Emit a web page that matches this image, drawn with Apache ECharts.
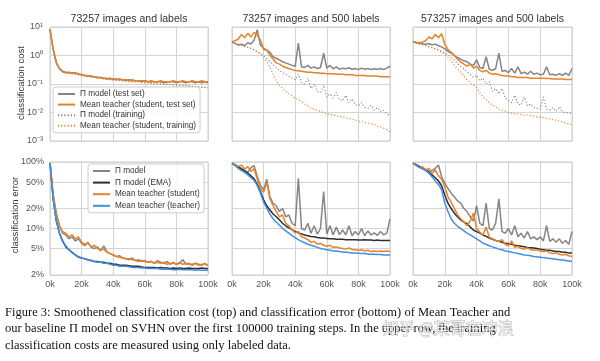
<!DOCTYPE html>
<html><head><meta charset="utf-8">
<script src="https://cdn.jsdelivr.net/npm/echarts@6/dist/echarts.min.js"></script>
<style>html,body{margin:0;padding:0;background:#fff}#c{width:600px;height:361px}</style>
</head><body><div id="c"></div>
<script>
// training steps (thousands)
const steps = [0,2,4,6,8,10,12,14,16,18,20,22,24,26,28,30,32,34,36,38,40,42,44,46,48,50,52,54,56,58,60,62,64,66,68,70,72,74,76,78,80,82,84,86,88,90,92,94,96,98,100];
const xTicks = [0,20,40,60,80,100];
const titles = ['73257 images and labels','73257 images and 500 labels','573257 images and 500 labels'];
const costTicks = [0.001,0.01,0.1,1,10];
const errTicks = [2,5,10,20,50,100];
const topNames = ['Π model (test set)','Mean teacher (student, test set)','Π model (training)','Mean teacher (student, training)'];
const botNames = ['Π model','Π model (EMA)','Mean teacher (student)','Mean teacher (teacher)'];
const caption = ['Figure 3: Smoothened classification cost (top) and classification error (bottom) of Mean Teacher and',
 'our baseline Π model on SVHN over the first 100000 training steps. In the upper row, the training',
 'classification costs are measured using only labeled data.'];

// ---- top row: classification cost ----
const piTest1 = [8.5,1.7,0.58,0.35,0.28,0.26,0.25,0.25,0.24,0.23, 0.21,0.2,0.19,0.19,0.18,0.17,0.17,0.16,0.15,0.16, 0.15,0.14,0.15,0.14,0.13,0.14,0.13,0.13,0.13,0.12, 0.13,0.12,0.12,0.12,0.12,0.12,0.11,0.12,0.12,0.12, 0.11,0.12,0.12,0.11,0.12,0.12,0.11,0.12,0.11,0.12, 0.11];
const mtTest1 = [8.0,1.6,0.55,0.34,0.27,0.25,0.26,0.24,0.25,0.22, 0.21,0.2,0.2,0.18,0.18,0.17,0.17,0.16,0.16,0.15, 0.15,0.15,0.14,0.14,0.14,0.13,0.14,0.13,0.13,0.13, 0.13,0.12,0.13,0.12,0.12,0.13,0.12,0.12,0.12,0.13, 0.12,0.12,0.13,0.12,0.12,0.13,0.12,0.12,0.13,0.12, 0.12];
const piTrain1 = [8.4,1.6,0.55,0.34,0.27,0.25,0.24,0.23,0.22,0.21, 0.2,0.19,0.18,0.18,0.17,0.16,0.16,0.15,0.15,0.14, 0.14,0.14,0.13,0.13,0.13,0.12,0.12,0.12,0.12,0.11, 0.11,0.11,0.105,0.1,0.1,0.1,0.098,0.096,0.094,0.092, 0.09,0.088,0.087,0.085,0.083,0.081,0.08,0.078,0.076,0.075, 0.073];
const mtTrain1 = [8.0,1.5,0.52,0.33,0.26,0.24,0.24,0.23,0.23,0.21, 0.2,0.19,0.19,0.18,0.17,0.17,0.16,0.16,0.15,0.15, 0.14,0.14,0.14,0.13,0.13,0.13,0.12,0.12,0.12,0.12, 0.11,0.11,0.11,0.11,0.105,0.1,0.1,0.1,0.098,0.096, 0.094,0.092,0.09,0.088,0.086,0.084,0.082,0.08,0.078,0.077, 0.075];

const piTest2 = [3.0,2.6,2.3,2.5,2.2,2.8,2.5,3.5,8.0,2.3, 1.8,1.5,1.3,0.9,0.8,0.7,0.6,0.55,0.5,0.45, 0.42,2.7,0.4,0.38,0.45,0.36,0.4,0.35,0.38,1.2, 0.36,0.45,0.34,0.4,0.33,0.36,0.34,0.37,0.33,0.35, 0.32,0.36,0.33,0.35,0.32,0.34,0.33,0.35,0.32,0.36, 0.42];
const mtTest2 = [3.0,3.3,3.8,5.5,4.2,6.0,4.5,6.5,5.0,3.5, 1.6,1.6,1.0,0.75,0.55,0.5,0.42,0.38,0.35,0.32, 0.3,0.29,0.28,0.27,0.26,0.26,0.25,0.25,0.24,0.24, 0.23,0.23,0.23,0.22,0.22,0.22,0.21,0.21,0.21,0.2, 0.2,0.2,0.2,0.19,0.19,0.19,0.19,0.18,0.18,0.18, 0.18];
const piTrain2 = [3.0,2.7,2.5,2.3,2.1,1.95,1.8,1.6,1.4,1.2, 1.0,0.8,0.62,0.48,0.38,0.3,0.25,0.22,0.19,0.16, 0.14,0.22,0.11,0.1,0.16,0.07,0.1,0.055,0.05,0.09, 0.035,0.045,0.032,0.05,0.028,0.026,0.04,0.022,0.03,0.019, 0.017,0.022,0.015,0.014,0.018,0.012,0.015,0.011,0.012,0.009, 0.008];
const mtTrain2 = [3.0,2.7,2.5,2.3,2.1,1.9,1.75,1.55,1.3,1.1, 0.85,0.6,0.4,0.22,0.13,0.09,0.07,0.055,0.045,0.038, 0.032,0.028,0.024,0.02,0.017,0.014,0.013,0.012,0.011,0.01, 0.009,0.0088,0.008,0.0078,0.0072,0.007,0.0064,0.0062,0.0057,0.0055, 0.005,0.0049,0.0045,0.0043,0.004,0.0038,0.0033,0.0031,0.0028,0.0025, 0.0021];

const piTest3 = [3.1,2.8,2.7,2.6,2.5,2.6,2.4,2.5,2.2,2.0, 1.7,1.4,1.2,1.0,0.85,0.75,0.65,0.6,0.5,0.45, 0.7,0.38,0.35,0.9,0.33,0.3,0.35,1.2,0.28,0.3, 0.25,0.35,0.24,0.4,0.23,0.26,0.22,0.28,0.22,0.24, 0.21,0.22,0.4,0.21,0.22,0.2,0.23,0.2,0.24,0.2, 0.35];
const mtTest3 = [3.1,2.9,2.8,3.0,3.3,4.5,3.8,5.5,4.2,5.8, 2.5,1.6,1.3,1.0,0.75,0.6,0.5,0.42,0.5,0.36, 0.42,0.3,0.27,0.3,0.24,0.22,0.23,0.21,0.2,0.19, 0.19,0.18,0.18,0.17,0.17,0.17,0.17,0.16,0.16,0.16, 0.16,0.16,0.155,0.155,0.15,0.15,0.15,0.15,0.145,0.145, 0.145];
const piTrain3 = [3.1,2.7,2.5,2.35,2.2,2.05,1.9,1.75,1.6,1.4, 1.25,1.05,0.85,0.68,0.52,0.42,0.34,0.27,0.22,0.17, 0.2,0.13,0.16,0.1,0.12,0.055,0.07,0.045,0.07,0.032, 0.026,0.022,0.04,0.02,0.018,0.035,0.017,0.02,0.015,0.014, 0.013,0.035,0.013,0.012,0.015,0.011,0.016,0.0105,0.01,0.0095, 0.0094];
const mtTrain3 = [3.1,2.7,2.5,2.35,2.2,2.0,1.85,1.7,1.5,1.3, 1.1,0.85,0.62,0.45,0.33,0.26,0.19,0.14,0.11,0.09, 0.075,0.05,0.035,0.028,0.022,0.018,0.016,0.013,0.012,0.011, 0.01,0.0095,0.009,0.0088,0.0085,0.008,0.0082,0.0078,0.0075,0.007, 0.0068,0.0066,0.0062,0.006,0.0057,0.0053,0.005,0.0046,0.0043,0.004, 0.0037];

// ---- bottom row: classification error (%) ----
const pi1 = [97,33,17,11,8.5,8.0,7.0,7.5,6.5,7.0, 6.0,5.5,6.2,5.2,5.0,5.3,4.6,5.5,4.5,4.2, 4.0,3.8,3.9,3.6,3.5,3.4,3.6,3.3,3.4,3.2, 3.3,3.1,3.2,3.0,3.3,3.1,3.0,3.2,2.9,3.1, 2.9,3.0,3.4,2.9,3.0,2.8,3.0,2.9,2.8,3.0, 2.8];
const piEma1 = [97,28,13,8.5,6.5,5.3,4.8,4.4,4.0,3.7, 3.6,3.5,3.4,3.3,3.2,3.2,3.1,3.1,3.0,3.0, 2.9,2.9,2.8,2.8,2.8,2.75,2.7,2.7,2.7,2.65, 2.6,2.6,2.6,2.6,2.55,2.6,2.55,2.55,2.5,2.55, 2.5,2.55,2.5,2.5,2.55,2.5,2.5,2.5,2.55,2.5, 2.5];
const mtStu1 = [97,32,16,11,9,8.5,7.5,8.0,7.0,7.5, 6.2,5.8,6.0,5.3,5.6,5.0,4.8,4.9,4.4,4.2, 4.0,3.8,3.7,3.6,3.5,3.5,3.4,3.3,3.2,3.3, 3.2,3.1,3.2,3.0,3.1,3.0,3.1,2.9,3.0,3.0, 2.9,3.1,2.9,3.0,2.9,2.9,3.0,2.8,2.9,2.9, 2.8];
const mtTea1 = [97,28,13,8.5,6.3,5.5,4.8,4.3,4.0,3.8, 3.6,3.5,3.4,3.3,3.2,3.1,3.1,3.0,3.0,2.9, 2.8,2.8,2.7,2.7,2.7,2.65,2.6,2.6,2.6,2.55, 2.55,2.5,2.5,2.5,2.5,2.45,2.45,2.45,2.45,2.4, 2.4,2.45,2.4,2.4,2.4,2.4,2.35,2.4,2.35,2.35, 2.35];

const pi2 = [96,90,86,80,75,70,82,88,60,45, 38,55,30,24,22,18,20,15,16,12, 11,57,10,9.5,12,8.5,11,8.2,10,36, 8.3,11,8.0,10.5,8.1,9.5,8.0,11,7.8,9.0, 8.0,10,7.8,9.2,8.0,8.6,7.9,9.0,8.0,8.5, 14];
const piEma2 = [96,90,84,78,73,68,62,56,46,36, 27,22,19,16.5,15,13.5,12,11,10.2,9.6, 9.0,8.6,8.3,8.0,7.8,7.6,7.5,7.3,7.2,7.2, 7.1,7.0,7.0,6.9,6.9,6.9,6.8,6.8,6.8,6.8, 6.7,6.7,6.8,6.7,6.7,6.6,6.7,6.6,6.6,6.6, 6.6];
const mtStu2 = [96,92,85,90,78,85,72,80,55,40, 35,50,28,22,18,15,16,12,11,9.5, 8.6,9.0,7.5,7.2,6.8,6.2,6.4,5.8,6.0,5.6, 5.4,5.6,5.2,5.3,5.1,5.0,4.9,5.1,4.8,4.8, 4.7,4.8,4.6,4.7,4.5,4.6,4.5,4.6,4.5,4.6, 4.5];
const mtTea2 = [96,88,80,74,70,64,58,53,44,34, 25,20,16.5,14,12.5,11.2,10,9.2,8.5,7.8, 7.3,6.8,6.4,6.1,5.8,5.6,5.4,5.2,5.0,4.9, 4.8,4.7,4.6,4.6,4.5,4.45,4.4,4.35,4.3,4.3, 4.25,4.2,4.2,4.15,4.1,4.1,4.05,4.05,4.0,4.0, 4.0];

const pi3 = [96,90,85,80,78,72,75,80,90,60, 48,40,34,30,26,24,20,18,15,13, 22,12,11,24,10,9.5,12,28,9.0,8.5, 10,8.0,11,7.5,8.5,7.2,9,7.0,7.5,6.8, 7.5,6.5,11,6.4,7.0,6.2,7.0,6.0,6.6,5.8, 9.0];
const piEma3 = [96,91,86,80,76,70,64,58,52,44, 32,24,20,17,15,13.5,12.5,11.8,10.5,9.5, 9.0,8.5,8.0,7.6,7.2,6.9,6.6,6.4,6.2,6.0, 5.9,5.8,5.6,5.5,5.4,5.3,5.2,5.15,5.1,5.0, 4.9,4.8,4.7,4.7,4.6,4.5,4.5,4.4,4.4,4.3, 4.3];
const mtStu3 = [96,88,82,85,75,80,68,76,62,55, 42,30,25,20,16,14,12.5,11,13,17, 10,8.8,8.0,10.5,7.4,7.0,6.6,6.4,6.8,5.8, 5.5,6.5,5.2,5.4,5.0,4.9,5.1,4.8,4.7,4.8, 4.6,4.5,4.6,4.3,4.2,4.3,4.1,4.0,4.1,3.9, 3.8];
const mtTea3 = [96,90,84,79,74,68,60,52,46,38, 24,18,14,12,10.8,10,9.2,8.5,8.0,7.5, 7.0,6.5,6.0,5.8,5.5,5.3,5.1,4.9,4.8,4.6, 4.5,4.4,4.3,4.2,4.1,4.0,3.95,3.9,3.8,3.75, 3.7,3.65,3.6,3.55,3.5,3.45,3.4,3.35,3.3,3.25, 3.2];

const GRAY = '#858585', BLACK = '#2e2e2e', ORANGE = '#e8822a', BLUE = '#3f8fe3';
const FONT = '"Liberation Sans", Arial, sans-serif';

const grids = [
  {left:50, top:27, width:158, height:114},
  {left:232, top:27, width:158, height:114},
  {left:413, top:27, width:159, height:114},
  {left:50, top:162, width:158, height:113},
  {left:232, top:162, width:158, height:113},
  {left:413, top:162, width:159, height:113}
].map(g => Object.assign({show:true, borderColor:'#cfcfcf', borderWidth:1, backgroundColor:'transparent'}, g));

const supMap = {'-3':'10⁻³','-2':'10⁻²','-1':'10⁻¹','0':'10⁰','1':'10¹'};
const xAxes = grids.map((g,i) => ({
  type:'value', gridIndex:i, min:0, max:100, interval:20,
  axisLine:{show:false}, axisTick:{show:false},
  splitLine:{show:true, lineStyle:{color:'#d4d4d4', width:1}},
  axisLabel:{show:i>=3, fontSize:9, color:'#555', fontFamily:FONT, margin:5, formatter:v => v + 'k'}
}));
const yAxes = grids.map((g,i) => {
  if (i < 3) return {
    type:'log', logBase:10, gridIndex:i, min:costTicks[0], max:costTicks[costTicks.length-1],
    axisLine:{show:false}, axisTick:{show:false}, minorTick:{show:false},
    splitLine:{show:true, lineStyle:{color:'#d4d4d4'}},
    axisLabel:{show:i===0, fontSize:9, color:'#555', fontFamily:FONT, margin:7,
      formatter:v => supMap[String(Math.round(Math.log10(v)))]}
  };
  return {
    type:'log', logBase:10, gridIndex:i, min:errTicks[0], max:errTicks[errTicks.length-1],
    axisLine:{show:false},
    axisTick:{show:false, customValues:errTicks},
    splitLine:{show:true, lineStyle:{color:'#d4d4d4'}},
    axisLabel:{show:i===3, customValues:errTicks, fontSize:9, color:'#555', fontFamily:FONT, margin:6,
      formatter:v => Math.round(v) + '%'}
  };
});

function pairs(vals){ return steps.map((s,k) => [s, vals[k]]); }
function line(name, vals, idx, color, dotted, w){
  return {type:'line', name:name, xAxisIndex:idx, yAxisIndex:idx, data:pairs(vals),
    symbol:'none', showSymbol:false, animation:false, silent:true,
    lineStyle:{color:color, width:w || (dotted?1.1:1.5), type:dotted?[1.2,2]:'solid'},
    itemStyle:{color:color}};
}
const topSets = [[piTest1,mtTest1,piTrain1,mtTrain1],[piTest2,mtTest2,piTrain2,mtTrain2],[piTest3,mtTest3,piTrain3,mtTrain3]];
const botSets = [[pi1,piEma1,mtStu1,mtTea1],[pi2,piEma2,mtStu2,mtTea2],[pi3,piEma3,mtStu3,mtTea3]];
const series = [];
topSets.forEach((set,p) => {
  series.push(line(topNames[0], set[0], p, GRAY, false));
  series.push(line(topNames[1], set[1], p, ORANGE, false));
  series.push(line(topNames[2], set[2], p, GRAY, true));
  series.push(line(topNames[3], set[3], p, ORANGE, true));
});
botSets.forEach((set,p) => {
  series.push(line(botNames[0], set[0], p+3, GRAY, false));
  series.push(line(botNames[1], set[1], p+3, BLACK, false));
  series.push(line(botNames[2], set[2], p+3, ORANGE, false));
  series.push(line(botNames[3], set[3], p+3, BLUE, false));
});

const legendBase = {orient:'vertical', backgroundColor:'rgba(255,255,255,0.85)', borderColor:'#cccccc', borderWidth:1,
  borderRadius:3, itemWidth:17, itemHeight:8, selectedMode:false,
  itemStyle:{opacity:0},
  textStyle:{fontSize:8.2, color:'#333', fontFamily:FONT}};
const legends = [
  Object.assign({}, legendBase, {data:topNames, left:53, top:87, itemGap:2.6, padding:[3,4,3,4]}),
  Object.assign({}, legendBase, {data:botNames, left:88, top:164, itemGap:3.6, padding:[3,4,3,4]})
];

const titleCenters = [129, 311, 492.5];
const graphics = [];
titles.forEach((t,i) => graphics.push({type:'text', x:titleCenters[i], y:19, style:{text:t, font:'10.5px ' + FONT, fill:'#333', align:'center', verticalAlign:'middle'}}));
graphics.push({type:'text', x:21, y:83, rotation:Math.PI/2, style:{text:'classification cost', font:'9.5px ' + FONT, fill:'#333', align:'center', verticalAlign:'middle'}});
graphics.push({type:'text', x:15, y:215, rotation:Math.PI/2, style:{text:'classification error', font:'9.5px ' + FONT, fill:'#333', align:'center', verticalAlign:'middle'}});
const capY = [312, 328.5, 345];
caption.forEach((t,i) => graphics.push({type:'text', x:5, y:capY[i], scaleX:0.928, style:{text:t, font:'13.5px "Liberation Serif", "Times New Roman", serif', fill:'#111', align:'left', verticalAlign:'middle'}}));
graphics.push({type:'text', x:383, y:328, z:100, style:{text:'知乎 @某哥在冲浪', font:'16px "Noto Sans CJK SC", sans-serif', fill:'rgba(255,255,255,0.75)', stroke:'rgba(120,120,120,0.6)', lineWidth:0.8, align:'left', verticalAlign:'middle'}});

const chart = echarts.init(document.getElementById('c'), null, {renderer:'canvas'});
chart.setOption({
  animation:false, backgroundColor:'#fff',
  grid:grids, xAxis:xAxes, yAxis:yAxes, series:series, legend:legends,
  graphic:{elements:graphics}
});
</script></body></html>
